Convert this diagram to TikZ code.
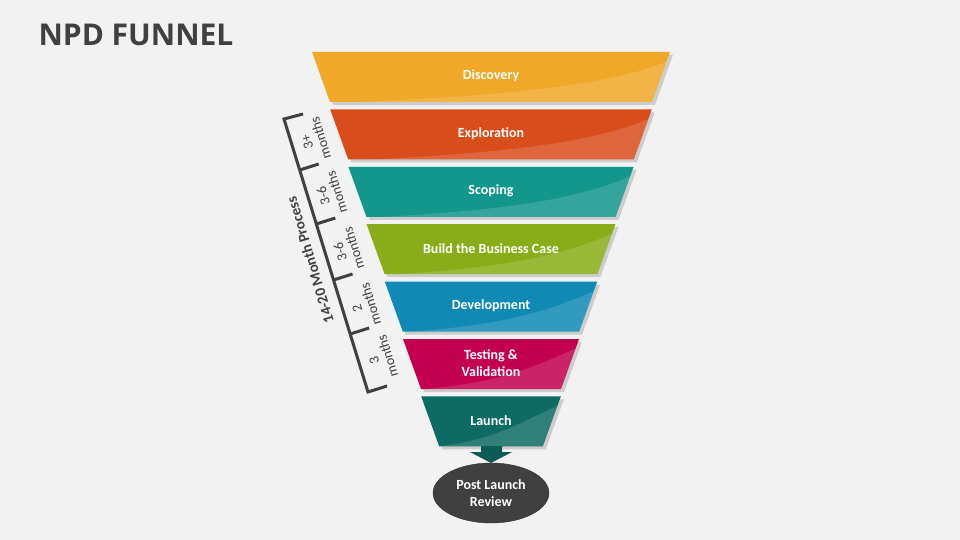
\documentclass[tikz,border=0pt]{standalone}
\usepackage{fontspec}
\setmainfont{Carlito}
\usetikzlibrary{shapes.geometric}
\definecolor{bgray}{HTML}{F2F2F2}
\definecolor{tgray}{HTML}{404040}
\definecolor{cDisc}{HTML}{F0A828}
\definecolor{cExpl}{HTML}{D94C1C}
\definecolor{cScop}{HTML}{13968C}
\definecolor{cBusi}{HTML}{89AD18}
\definecolor{cDeve}{HTML}{1189B5}
\definecolor{cTest}{HTML}{C2004F}
\definecolor{cLaun}{HTML}{0E6B64}

\begin{document}
\begin{tikzpicture}[x=1pt, y=-1pt,
        band/.style={draw=none},
        bandtext/.style={text=white, font=\fontsize{14}{17}\selectfont\bfseries, align=center},
        months/.style={text=tgray, font=\fontsize{14}{14}\selectfont, align=center, rotate=107},
        brace/.style={draw=tgray, line width=3pt},
        review/.style={ellipse, fill=tgray, draw=tgray!70!black, minimum width=116pt, minimum height=60pt, text=white, font=\fontsize{14}{17}\selectfont\bfseries, align=center}
        ]

        % Background
        \fill[bgray] (0,0) rectangle (960,540);
        \node (title) [anchor=west, text=tgray, font=\fontspec{Open Sans}\fontsize{30}{30}\selectfont\bfseries] at (35,35) {NPD FUNNEL};

        % Funnel bands
        \foreach \i/\col/\txt in {0/cDisc/Discovery, 1/cExpl/Exploration, 2/cScop/Scoping, 3/cBusi/Build the Business Case, 4/cDeve/Development, 5/cTest/{Testing \&\\Validation}, 6/cLaun/Launch} {
            \pgfmathsetmacro{\yt}{52+57.4*\i}
            \pgfmathsetmacro{\xl}{312+18.2*\i}
            \pgfmathsetmacro{\xr}{670-18.2*\i}
            \fill[black, opacity=0.15] (\xl+3,\yt+3) -- (\xr+3,\yt+3) -- (\xr-15,\yt+53) -- (\xl+21,\yt+53) -- cycle;
            \fill[band, \col] (\xl,\yt) -- (\xr,\yt) -- (\xr-18,\yt+50) -- (\xl+18,\yt+50) -- cycle;
            \begin{scope}
                \clip (\xl,\yt) -- (\xr,\yt) -- (\xr-18,\yt+50) -- (\xl+18,\yt+50) -- cycle;
                \fill[white, opacity=0.14] (\xl,\yt+52) .. controls (491,\yt+45) and (\xr-60,\yt+35) .. (\xr,\yt+8) -- (\xr,\yt+52) -- cycle;
            \end{scope}
            \node (band\i) [bandtext] at (491,\yt+24) {\txt};
        }

        % Arrow to review
        \fill[cLaun!85!black] (481,446) -- (502,446) -- (502,452) -- (512,452) -- (491,463) -- (470,452) -- (481,452) -- cycle;
        \node (review) [review] at (491,493) {Post Launch\\Review};

        % Bracket
        \coordinate (spineTop) at (284,119);
        \coordinate (spineBot) at (368,392);
        \draw[brace] (303,114) -- (spineTop) -- (spineBot) -- (387,386);
        \foreach \y in {170,224,280,334} {
            \pgfmathsetmacro{\xs}{284+(\y-119)*0.3077}
            \draw[brace] (\xs,\y) -- (\xs+19,\y-6);
        }
        \node (mon1) [months] at (314,140) {3+\\months};
        \node (mon2) [months] at (330,194) {3-6\\months};
        \node (mon3) [months] at (347,250) {3-6\\months};
        \node (mon4) [months] at (364,306) {2\\months};
        \node (mon5) [months] at (381,358) {3\\months};
        \node (process) [months, font=\fontsize{15}{15}\selectfont\bfseries] at (310,260) {14-20 Month Process};

\end{tikzpicture}
\end{document}
